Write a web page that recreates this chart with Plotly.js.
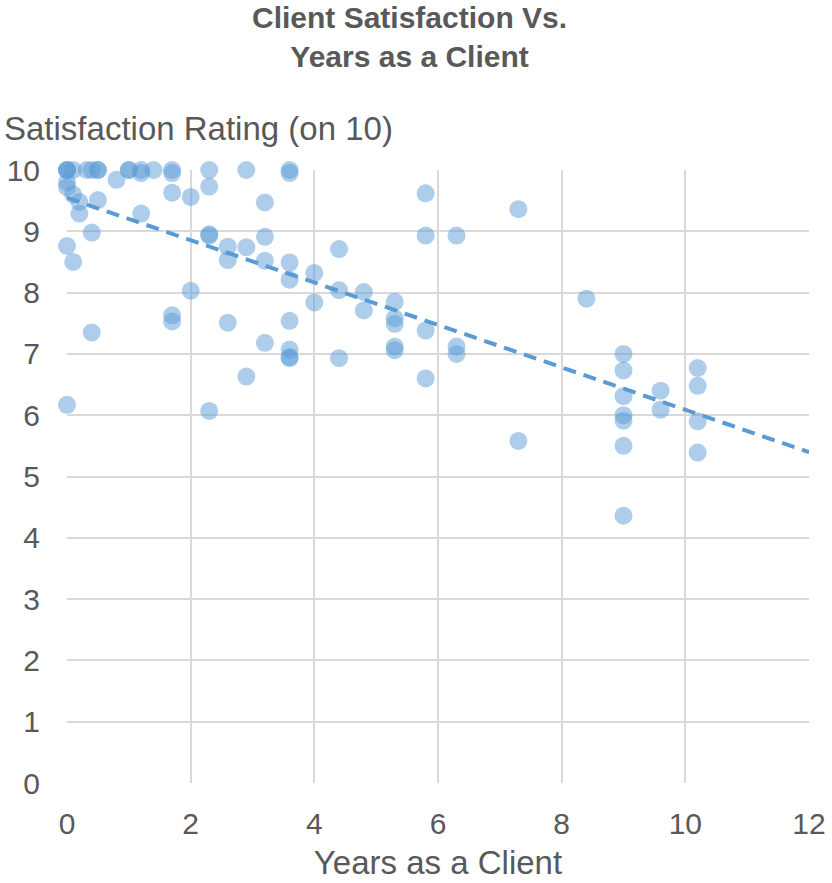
<!DOCTYPE html>
<html>
<head>
<meta charset="utf-8">
<script src="https://cdn.plot.ly/plotly-3.0.1.min.js"></script>
<style>
  html, body { margin: 0; padding: 0; background: #fff; }
  #chart { width: 832px; height: 883px; }
</style>
</head>
<body>
<div id="chart"></div>
<script>
// values, one entry per client
var years = [
  0, 0, 0, 0, 0, 0, 0,
  0.1, 0.1, 0.1,
  0.2, 0.2,
  0.32,
  0.4, 0.4, 0.4,
  0.5, 0.5, 0.5,
  0.8,
  1.0, 1.0,
  1.2, 1.2, 1.2,
  1.4,
  1.7, 1.7, 1.7, 1.7, 1.7,
  2.0, 2.0,
  2.3, 2.3, 2.3, 2.3, 2.3,
  2.6, 2.6, 2.6,
  2.9, 2.9, 2.9,
  3.2, 3.2, 3.2, 3.2,
  3.6, 3.6, 3.6, 3.6, 3.6, 3.6, 3.6, 3.6,
  4.0, 4.0,
  4.4, 4.4, 4.4,
  4.8, 4.8,
  5.3, 5.3, 5.3, 5.3, 5.3,
  5.8, 5.8, 5.8, 5.8,
  6.3, 6.3, 6.3,
  7.3, 7.3,
  8.4,
  9.0, 9.0, 9.0, 9.0, 9.0, 9.0, 9.0,
  9.6, 9.6,
  10.2, 10.2, 10.2, 10.2
];
var ratings = [
  10, 10, 10, 9.8, 9.72, 8.76, 6.17,
  10, 9.6, 8.5,
  9.48, 9.29,
  10,
  10, 8.98, 7.35,
  10, 10, 9.51,
  9.84,
  10, 10,
  10, 9.95, 9.29,
  10,
  10, 9.95, 9.63, 7.63, 7.53,
  9.56, 8.03,
  10, 9.73, 8.95, 8.93, 6.07,
  8.75, 8.53, 7.51,
  10, 8.74, 6.63,
  9.47, 8.91, 8.52, 7.18,
  10, 9.95, 8.49, 8.21, 7.54, 7.07, 6.95, 6.93,
  8.32, 7.84,
  8.71, 8.04, 6.93,
  8.01, 7.71,
  7.85, 7.58, 7.49, 7.12, 7.06,
  9.62, 8.93, 7.38, 6.6,
  8.93, 7.12, 7.0,
  9.36, 5.58,
  7.9,
  7.0, 6.73, 6.31, 6.0, 5.91, 5.5, 4.36,
  6.4, 6.09,
  6.77, 6.48, 5.9, 5.39
];
var xTicks = [0, 2, 4, 6, 8, 10, 12];
var yTicks = [0, 1, 2, 3, 4, 5, 6, 7, 8, 9, 10];

// least squares trend line, extended to the end of the axis
function fitLine(xs, ys) {
  var n = xs.length, sx = 0, sy = 0, sxx = 0, sxy = 0;
  for (var i = 0; i < n; i++) {
    sx += xs[i]; sy += ys[i];
    sxx += xs[i] * xs[i]; sxy += xs[i] * ys[i];
  }
  var slope = (n * sxy - sx * sy) / (n * sxx - sx * sx);
  return {slope: slope, intercept: (sy - slope * sx) / n};
}
var fit = fitLine(years, ratings);
var trendX = [xTicks[0], xTicks[xTicks.length - 1]];
var trendY = trendX.map(function (v) { return fit.intercept + fit.slope * v; });

var grey = '#595959';
var font = 'Liberation Sans, Arial, sans-serif';

var points = {
  x: years,
  y: ratings,
  mode: 'markers',
  type: 'scatter',
  cliponaxis: false,
  marker: {color: '#5b9bd5', size: 18, opacity: 0.5, line: {width: 0}},
  hoverinfo: 'x+y'
};
var trend = {
  x: trendX,
  y: trendY,
  mode: 'lines',
  type: 'scatter',
  line: {color: '#5b9bd5', width: 4, dash: '13px,8px'},
  hoverinfo: 'skip'
};

var layout = {
  width: 832,
  height: 883,
  showlegend: false,
  paper_bgcolor: '#fff',
  plot_bgcolor: '#fff',
  margin: {l: 67, r: 23, t: 170, b: 100},
  font: {family: font, color: grey, size: 28},
  xaxis: {
    range: [0, 12],
    tickvals: xTicks,
    showgrid: true, gridcolor: '#d9d9d9', gridwidth: 2,
    zeroline: false, showline: false,
    ticks: '', ticklabelstandoff: 20,
    tickfont: {family: font, size: 30, color: grey},
    title: {text: 'Years as a Client', font: {family: font, size: 33, color: grey}, standoff: 11}
  },
  yaxis: {
    range: [0, 10],
    tickvals: yTicks,
    showgrid: true, gridcolor: '#d9d9d9', gridwidth: 2,
    zeroline: false, showline: false,
    ticks: '', ticklabelstandoff: 26,
    tickfont: {family: font, size: 30, color: grey}
  },
  annotations: [{
    text: '<b>Client Satisfaction Vs.<br>Years as a Client</b>',
    xref: 'paper', yref: 'paper',
    x: 0.462, y: 1.279,
    xanchor: 'center', yanchor: 'top',
    showarrow: false,
    font: {family: font, size: 30, color: grey}
  }, {
    text: 'Satisfaction Rating (on 10)',
    xref: 'paper', yref: 'paper',
    x: -0.088, y: 1.0685,
    xanchor: 'left', yanchor: 'middle',
    showarrow: false,
    font: {family: font, size: 33, color: grey}
  }]
};

Plotly.newPlot('chart', [points, trend], layout, {displayModeBar: false, staticPlot: true});
</script>
</body>
</html>
